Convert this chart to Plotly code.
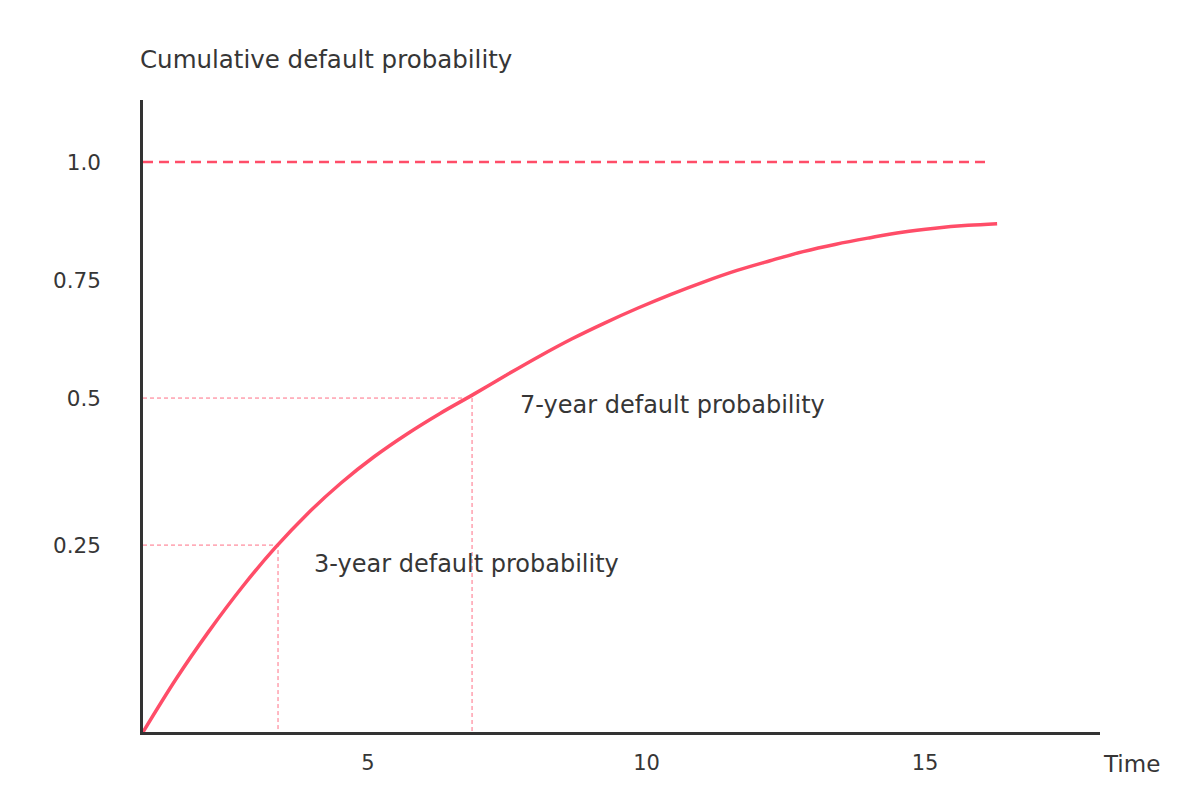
import plotly.graph_objects as go

# Data (time in years, cumulative probability on the drawn scale)
time_vals = [0.961, 1.553, 2.145, 2.738, 3.330, 3.923, 4.515, 5.108, 5.700, 6.293,
             6.885, 7.478, 8.070, 8.663, 9.255, 9.847, 10.440, 11.032, 11.625,
             12.217, 12.810, 13.402, 13.995, 14.587, 15.180, 15.772, 16.293]
prob_vals = [0.0, 0.093, 0.177, 0.254, 0.323, 0.384, 0.437, 0.483, 0.523, 0.559,
             0.592, 0.626, 0.659, 0.690, 0.718, 0.744, 0.768, 0.790, 0.810,
             0.827, 0.843, 0.856, 0.867, 0.877, 0.884, 0.889, 0.892]

ceiling_t = [0.96, 16.08]
ceiling_p = [1.0, 1.0]

guide3_t = [0.96, 3.384, 3.384]
guide3_p = [0.328, 0.328, 0.0]
guide7_t = [0.96, 6.867, 6.867]
guide7_p = [0.586, 0.586, 0.0]

x_tickvals = [5, 10, 15]
x_ticktext = ["5", "10", "15"]
y_tickvals = [1.0, 0.793, 0.586, 0.328]
y_ticktext = ["1.0", "0.75", "0.5", "0.25"]

RED = "#ff4d68"
GUIDE = "#ff7086"
TXT = "#363636"
FONT = "DejaVu Sans"

fig = go.Figure()
fig.add_trace(go.Scatter(x=guide3_t, y=guide3_p, mode="lines",
                         line=dict(color=GUIDE, width=1, dash="4px,3px"),
                         hoverinfo="skip", showlegend=False))
fig.add_trace(go.Scatter(x=guide7_t, y=guide7_p, mode="lines",
                         line=dict(color=GUIDE, width=1, dash="4px,3px"),
                         hoverinfo="skip", showlegend=False))
fig.add_trace(go.Scatter(x=ceiling_t, y=ceiling_p, mode="lines",
                         line=dict(color=RED, width=2.5, dash="10px,6px"),
                         hoverinfo="skip", showlegend=False))
fig.add_trace(go.Scatter(x=time_vals, y=prob_vals, mode="lines",
                         line=dict(color=RED, width=3.5, shape="spline", smoothing=1),
                         showlegend=False))

fig.update_xaxes(range=[0.96, 18.14], showgrid=False, zeroline=False,
                 showline=True, linecolor="#333333", linewidth=2.5,
                 tickvals=x_tickvals, ticktext=x_ticktext, ticks="",
                 ticklabelstandoff=10,
                 tickfont=dict(family=FONT, size=21, color=TXT))
fig.update_yaxes(range=[0, 1.109], showgrid=False, zeroline=False,
                 showline=True, linecolor="#333333", linewidth=2.5,
                 tickvals=y_tickvals, ticktext=y_ticktext, ticks="",
                 ticklabelstandoff=35,
                 tickfont=dict(family=FONT, size=21.5, color=TXT))

annots = [
    dict(text="Cumulative default probability", x=138, y=59, size=24.5),
    dict(text="Time", x=1101, y=764, size=23),
    dict(text="3-year default probability", x=312, y=564, size=24),
    dict(text="7-year default probability", x=518, y=405, size=24),
]
for a in annots:
    fig.add_annotation(text=a["text"], xref="paper", yref="paper",
                       x=(a["x"] - 143) / 957, y=(732 - a["y"]) / 632,
                       xanchor="left", yanchor="middle", showarrow=False,
                       font=dict(family=FONT, size=a["size"], color=TXT))

fig.update_layout(width=1200, height=811, plot_bgcolor="white", paper_bgcolor="white",
                  margin=dict(l=143, r=100, t=100, b=79))

fig.write_html("out.html")
